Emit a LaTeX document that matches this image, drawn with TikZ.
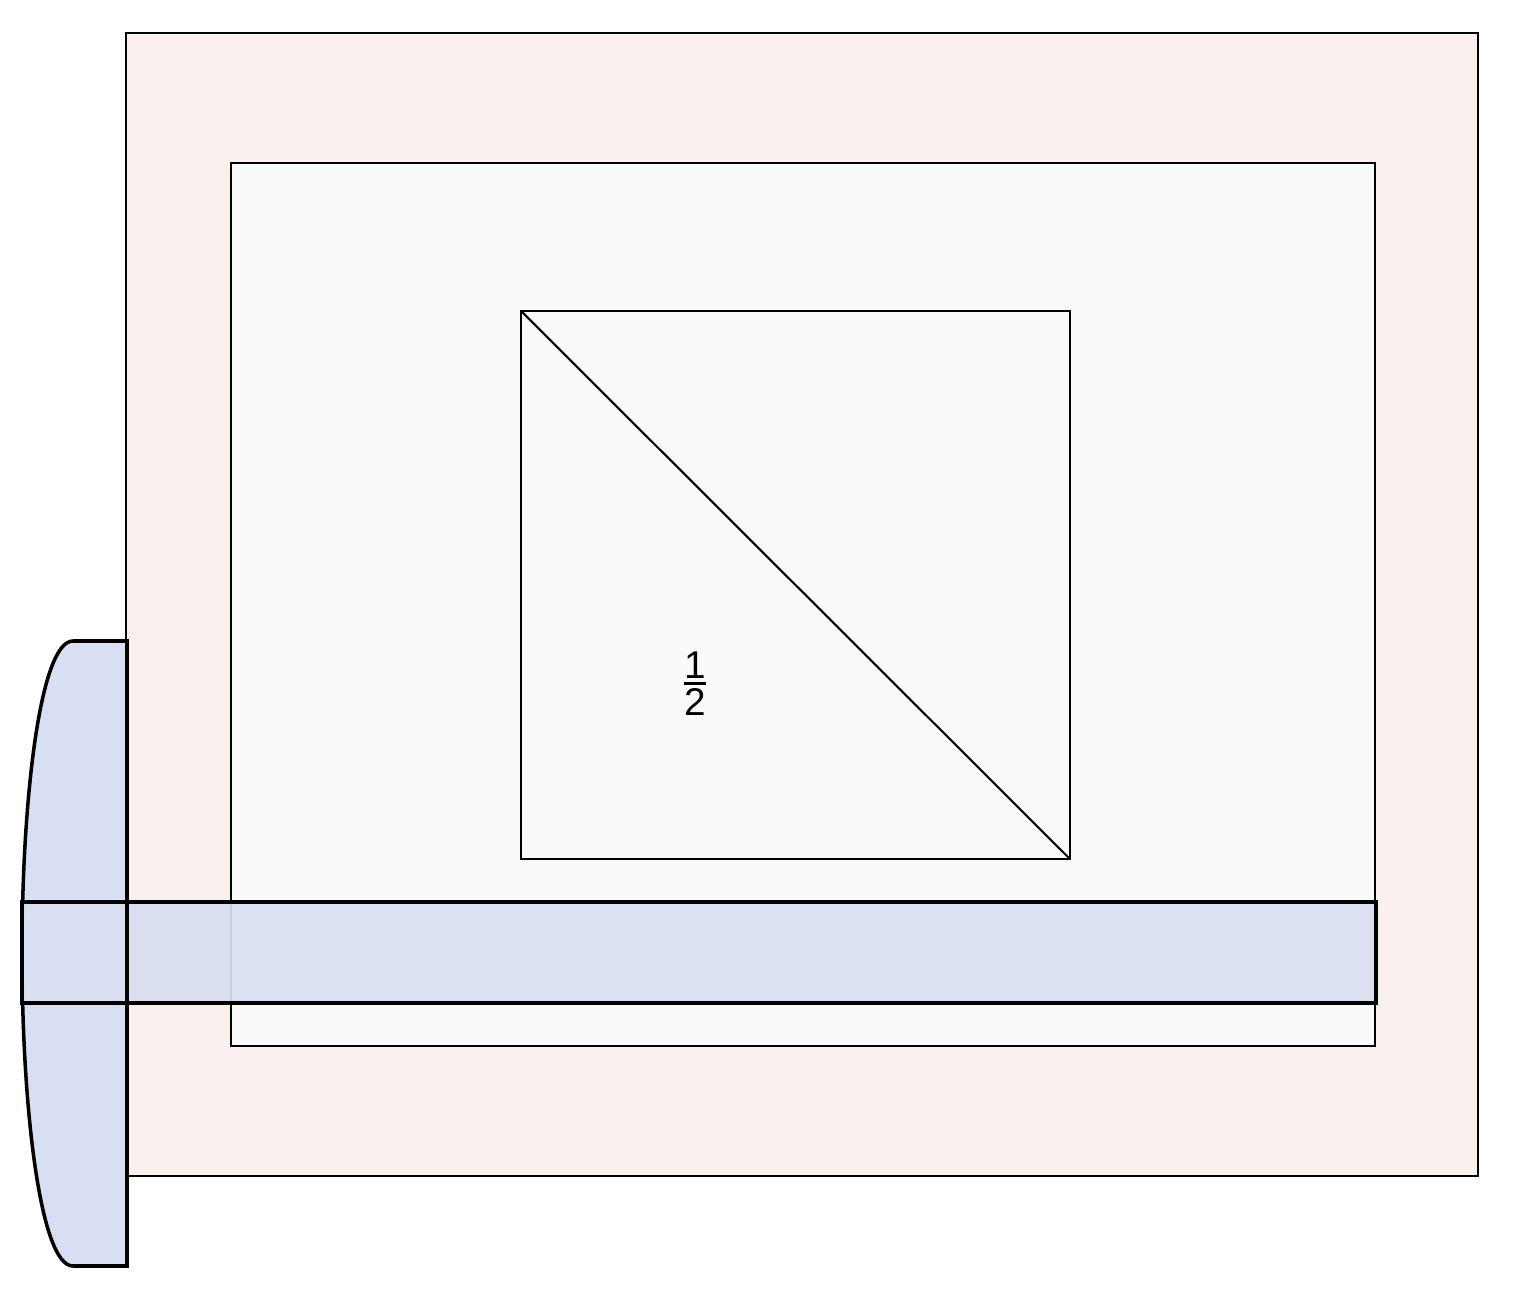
\documentclass[tikz,border=0pt]{standalone}
\usepackage{amsmath}
\usepackage{fontspec}
\setmainfont{Liberation Sans}
\usepackage{tikz}
\usetikzlibrary{positioning}
\definecolor{framepink}{HTML}{F9F0EF}
\definecolor{panelgrey}{HTML}{FAFAFA}
\definecolor{clampblue}{HTML}{D9DFF2}

\begin{document}
\begin{tikzpicture}[x=0.01cm, y=-0.01cm,
    frame/.style={draw, line width=0.6pt, fill=framepink},
    panel/.style={draw, line width=0.6pt, fill=panelgrey},
    clamp/.style={draw, line width=1pt, fill=clampblue},
    bar/.style={draw, line width=1pt, fill=clampblue, fill opacity=0.93}]
    \useasboundingbox (0,0) rectangle (1514,1300);

    % frame and panels
    \draw [frame] (126,33) rectangle (1478,1176);
    \draw [panel] (231,163) rectangle (1375,1046);
    \draw [panel] (521,311) rectangle (1070,859);
    \draw [line width=0.6pt] (521,311) -- (1070,859);
    \node [font=\fontsize{11}{13}\selectfont, inner sep=0pt] (half) at (695,680)
        {$\genfrac{}{}{0.9pt}{1}{\mbox{1}\vphantom{\rule{0pt}{9.5pt}}}{\mbox{2}}$};

    % clamp head and bar
    \draw [clamp] (127,641) -- (73,641)
        .. controls (40,641) and (22,800) .. (22,953)
        .. controls (22,1106) and (40,1266) .. (73,1266)
        -- (127,1266) -- cycle;
    \draw [bar] (22,902) rectangle (1376,1003);
    \draw [line width=1pt] (127,902) -- (127,1003);
\end{tikzpicture}
\end{document}
